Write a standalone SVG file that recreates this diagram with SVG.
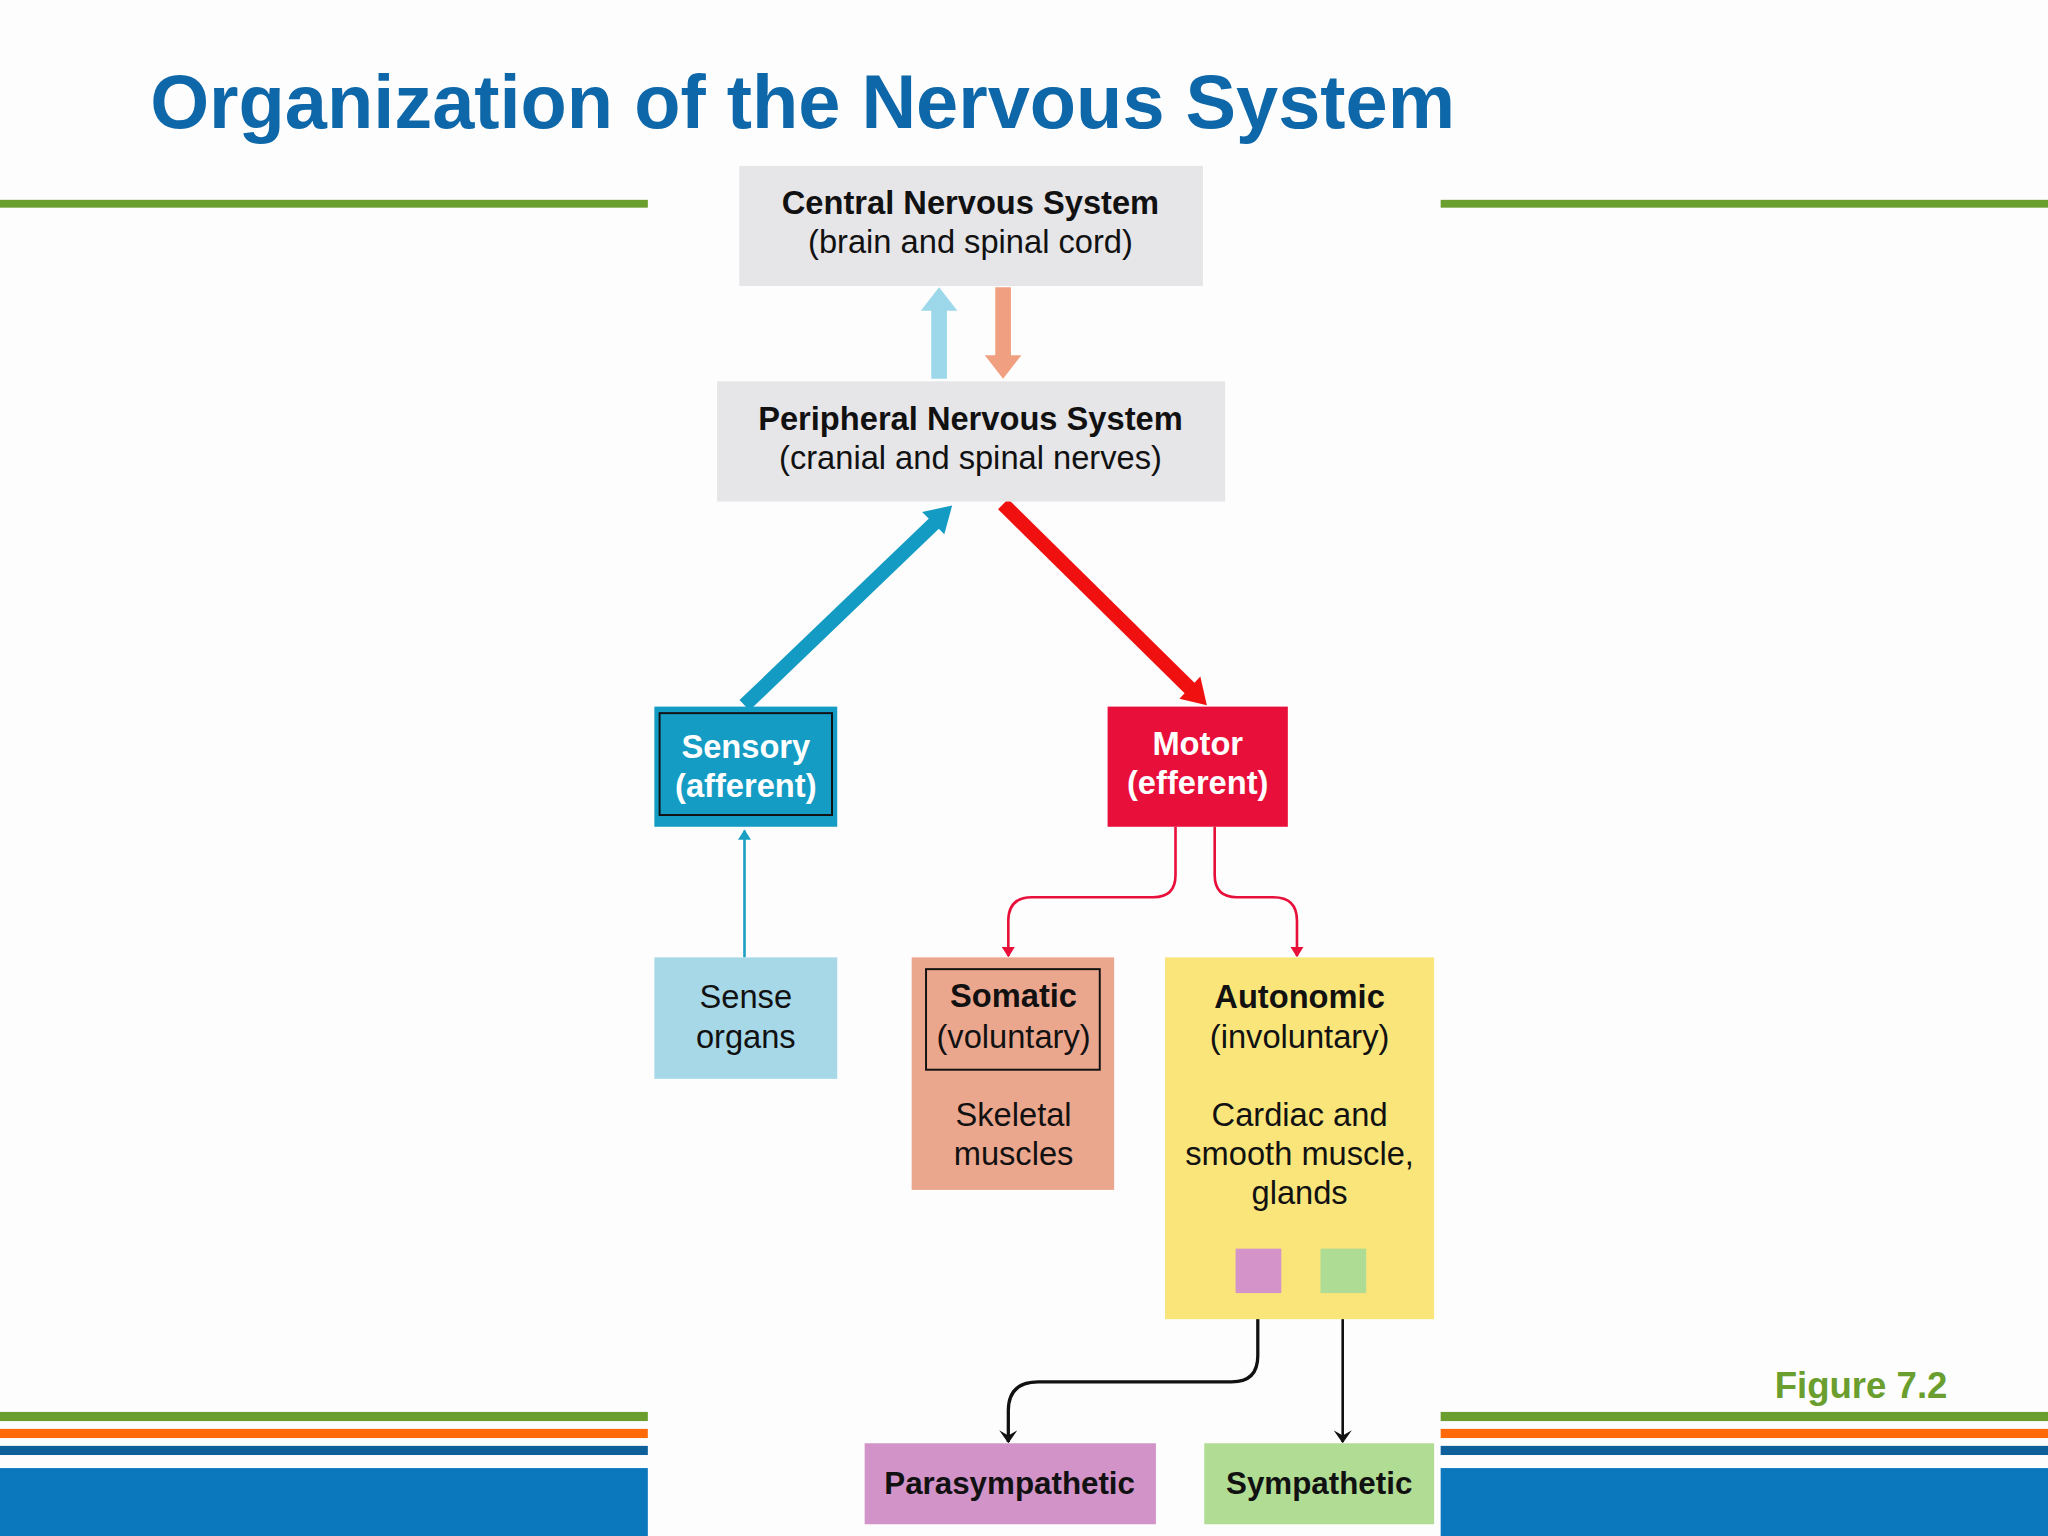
<svg xmlns="http://www.w3.org/2000/svg" width="2048" height="1536" viewBox="0 0 2048 1536">
<defs>
<style>
text{font-family:"Liberation Sans",Arial,sans-serif;text-anchor:middle;fill:#111}
.b{font-weight:bold;font-size:25px}
.n{font-size:25px}
.w{fill:#fff;font-weight:bold;font-size:25px}
</style>
<marker id="ar" markerWidth="8" markerHeight="10" refX="7" refY="5" orient="auto" markerUnits="userSpaceOnUse"><path d="M0,0 L8,5 L0,10 Z" fill="#e8103a"/></marker>
<marker id="ak" markerWidth="10" markerHeight="14" refX="9" refY="7" orient="auto" markerUnits="userSpaceOnUse"><path d="M0,0 L10,7 L0,14 L4,7 Z" fill="#111"/></marker>
<marker id="ab" markerWidth="8" markerHeight="10" refX="7" refY="5" orient="auto" markerUnits="userSpaceOnUse"><path d="M0,0 L8,5 L0,10 Z" fill="#1ba0c4"/></marker>
</defs>
<rect width="2048" height="1536" fill="#fdfdfd"/>
<g transform="scale(1.30612)">
<g id="decor">
<text x="115" y="98" text-anchor="start" style="text-anchor:start;font-size:58px;font-weight:bold;fill:#0e67a8">Organization of the Nervous System</text>
<rect x="0" y="153" width="496" height="6" fill="#6a9e2e"/><rect x="1103" y="153" width="465" height="6" fill="#6a9e2e"/>
<rect x="0" y="1081" width="496" height="7" fill="#6a9e2e"/><rect x="1103" y="1081" width="465" height="7" fill="#6a9e2e"/>
<rect x="0" y="1094" width="496" height="7" fill="#fe6a0a"/><rect x="1103" y="1094" width="465" height="7" fill="#fe6a0a"/>
<rect x="0" y="1107" width="496" height="7" fill="#0d609a"/><rect x="1103" y="1107" width="465" height="7" fill="#0d609a"/>
<rect x="0" y="1124" width="496" height="52" fill="#0b78be"/><rect x="1103" y="1124" width="465" height="52" fill="#0b78be"/>
<text x="1491" y="1070" style="text-anchor:end;font-size:28px;font-weight:bold;fill:#6a9e2e">Figure 7.2</text>
</g>
<g id="connectors" fill="none">
<path d="M719 290 V236" stroke="#9dd8ea" stroke-width="12"/><path d="M705 238 L719 220 L733 238 Z" fill="#9dd8ea"/>
<path d="M768 220 V274" stroke="#f0a080" stroke-width="12"/><path d="M754 272 L768 290 L782 272 Z" fill="#f0a080"/>
<path d="M570 540 L718 398" stroke="#149bc3" stroke-width="11"/><path d="M706 392 L729 387 L723 409 Z" fill="#149bc3"/>
<path d="M768 386 L912 528" stroke="#f01010" stroke-width="11"/><path d="M903 535 L924 540 L919 518 Z" fill="#f01010"/>
<path d="M570 733 V636" stroke="#1ba0c4" stroke-width="2" marker-end="url(#ab)"/>
<path d="M900 633 V670 Q900 687 883 687 H790 Q772 687 772 705 V732" stroke="#e8103a" stroke-width="2" marker-end="url(#ar)"/>
<path d="M930 633 V670 Q930 687 947 687 H975 Q993 687 993 705 V732" stroke="#e8103a" stroke-width="2" marker-end="url(#ar)"/>
<path d="M963 990 V1038 Q963 1058 943 1058 H795 Q772 1058 772 1080 V1104" stroke="#111" stroke-width="2.5" marker-end="url(#ak)"/>
<path d="M1028 990 V1104" stroke="#111" stroke-width="2" marker-end="url(#ak)"/>
</g>
<g id="cns"><rect x="566" y="127" width="355" height="92" fill="#e6e5e8"/><text class="b" x="743" y="164">Central Nervous System</text><text class="n" x="743" y="194">(brain and spinal cord)</text></g>
<g id="pns"><rect x="549" y="292" width="389" height="92" fill="#e6e5e8"/><text class="b" x="743" y="329">Peripheral Nervous System</text><text class="n" x="743" y="359">(cranial and spinal nerves)</text></g>
<g id="sensory"><rect x="501" y="541" width="140" height="92" fill="#159cc4"/><rect x="505" y="546" width="132" height="78" fill="none" stroke="#111" stroke-width="1.5"/><text class="w" x="571" y="580">Sensory</text><text class="w" x="571" y="610">(afferent)</text></g>
<g id="motor"><rect x="848" y="541" width="138" height="92" fill="#e8103a"/><text class="w" x="917" y="578">Motor</text><text class="w" x="917" y="608">(efferent)</text></g>
<g id="sense"><rect x="501" y="733" width="140" height="93" fill="#a6d8e8"/><text class="n" x="571" y="772">Sense</text><text class="n" x="571" y="802">organs</text></g>
<g id="somatic"><rect x="698" y="733" width="155" height="178" fill="#eba68e"/><rect x="709" y="742" width="133" height="77" fill="none" stroke="#111" stroke-width="1.5"/><text class="b" x="776" y="771">Somatic</text><text class="n" x="776" y="802">(voluntary)</text><text class="n" x="776" y="862">Skeletal</text><text class="n" x="776" y="892">muscles</text></g>
<g id="autonomic"><rect x="892" y="733" width="206" height="277" fill="#f9e57a"/><text class="b" x="995" y="772">Autonomic</text><text class="n" x="995" y="802">(involuntary)</text><text class="n" x="995" y="862">Cardiac and</text><text class="n" x="995" y="892">smooth muscle,</text><text class="n" x="995" y="922">glands</text><rect x="946" y="956" width="35" height="34" fill="#d493c9"/><rect x="1011" y="956" width="35" height="34" fill="#aedc94"/></g>
<g id="para"><rect x="662" y="1105" width="223" height="62" fill="#d293c8"/><text class="n" x="773" y="1144" style="font-weight:bold;font-size:24px">Parasympathetic</text></g>
<g id="symp"><rect x="922" y="1105" width="176" height="62" fill="#b0dc94"/><text class="n" x="1010" y="1144" style="font-weight:bold;font-size:24px">Sympathetic</text></g>
</g>
</svg>
